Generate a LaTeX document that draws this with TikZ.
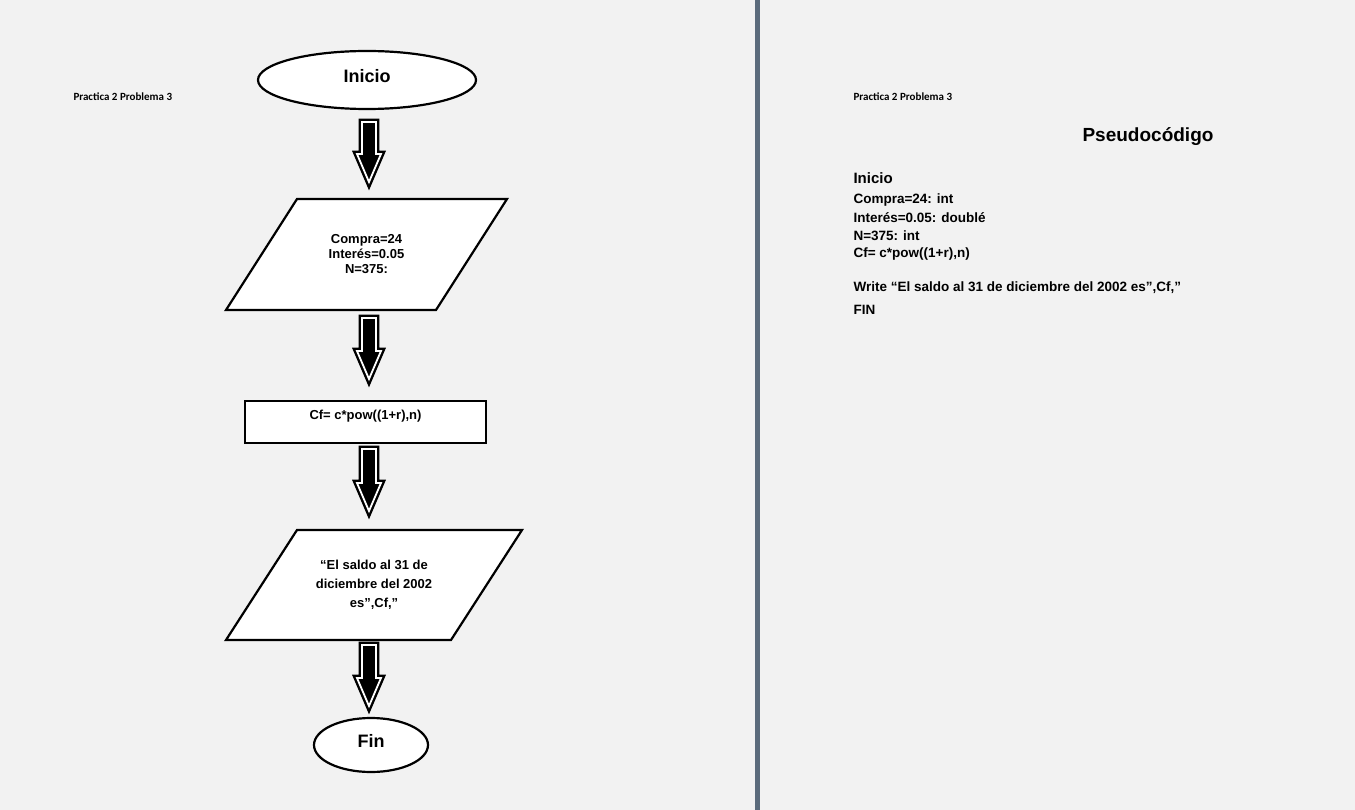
\documentclass[tikz,border=0pt]{standalone}
\usepackage{fontspec}
\setmainfont{Liberation Sans}
\newfontfamily\carlitofont{Carlito}
\usetikzlibrary{shapes.geometric}
\definecolor{bg}{HTML}{F2F2F2}
\definecolor{divc}{HTML}{5B6B7C}
\tikzset{
 shp/.style={draw=black,line width=2.2pt,fill=white},
 txt/.style={font=\fontsize{13}{15}\selectfont\bfseries,align=center},
 big/.style={font=\fontsize{18}{20}\selectfont\bfseries},
 pcl/.style={font=\fontsize{13.5}{15}\selectfont\bfseries,anchor=west},
 hdr/.style={font=\carlitofont\fontsize{11}{12}\selectfont\bfseries,anchor=west},
 barrow/.style={draw=black,fill=black,line width=2.4pt,double=white,double distance=1.8pt,line join=miter}
}
\newcommand{\blockarrow}[3]{% x, top, bottom
 \draw[barrow] (#1-7,#2+2) -- (#1+7,#2+2) -- (#1+7,#3-34) -- (#1+12,#3-34) -- (#1,#3-6) -- (#1-12,#3-34) -- (#1-7,#3-34) -- cycle;}
\begin{document}
\begin{tikzpicture}[x=1pt,y=-1pt]
\useasboundingbox (0,0) rectangle (1355,810);
\fill[bg] (0,0) rectangle (1355,810);
\fill[divc] (755,0) rectangle (760,810);
\node[hdr] (h1) at (70,97) {Practica 2 Problema 3};
\node[hdr] (h2) at (850,97) {Practica 2 Problema 3};
\node[shp,ellipse,minimum width=218pt,minimum height=58pt,big] (ini) at (367,80) {};
\node[big] (initx) at (367,76) {Inicio};
\draw[shp] (297,199) -- (507,199) -- (436,310) -- (226,310) -- cycle;
\node[txt] (in1) at (366.5,254) {Compra=24\\Interés=0.05\\N=375:};
\node[shp,rectangle,minimum width=241pt,minimum height=42pt] (cf) at (365.5,422) {};
\node[txt] (cftx) at (365.5,416) {Cf= c*pow((1+r),n)};
\draw[shp] (297,530) -- (522,530) -- (451,640) -- (226,640) -- cycle;
\node[txt,font=\fontsize{13}{19}\selectfont\bfseries] (out) at (374,585) {“El saldo al 31 de\\diciembre del 2002\\es”,Cf,”};
\node[shp,ellipse,minimum width=114pt,minimum height=54pt] (fin) at (371,745) {};
\node[big] (fintx) at (371,741) {Fin};
\blockarrow{369}{120}{188}
\blockarrow{369}{316}{385}
\blockarrow{369}{447}{517}
\blockarrow{369}{643}{712}
\node[font=\fontsize{19}{21}\selectfont\bfseries] (ps) at (1148,137) {Pseudocódigo};
\node[pcl,font=\fontsize{15}{17}\selectfont\bfseries] (l0) at (850,178) {Inicio};
\node[pcl] (l1) at (850,200) {Compra=24: int};
\node[pcl] (l2) at (850,218) {Interés=0.05: doublé};
\node[pcl] (l3) at (850,236) {N=375: int};
\node[pcl] (l4) at (850,254) {Cf= c*pow((1+r),n)};
\node[pcl] (l5) at (850,288) {Write “El saldo al 31 de diciembre del 2002 es”,Cf,”};
\node[pcl] (l6) at (850,310) {FIN};
\end{tikzpicture}
\end{document}
